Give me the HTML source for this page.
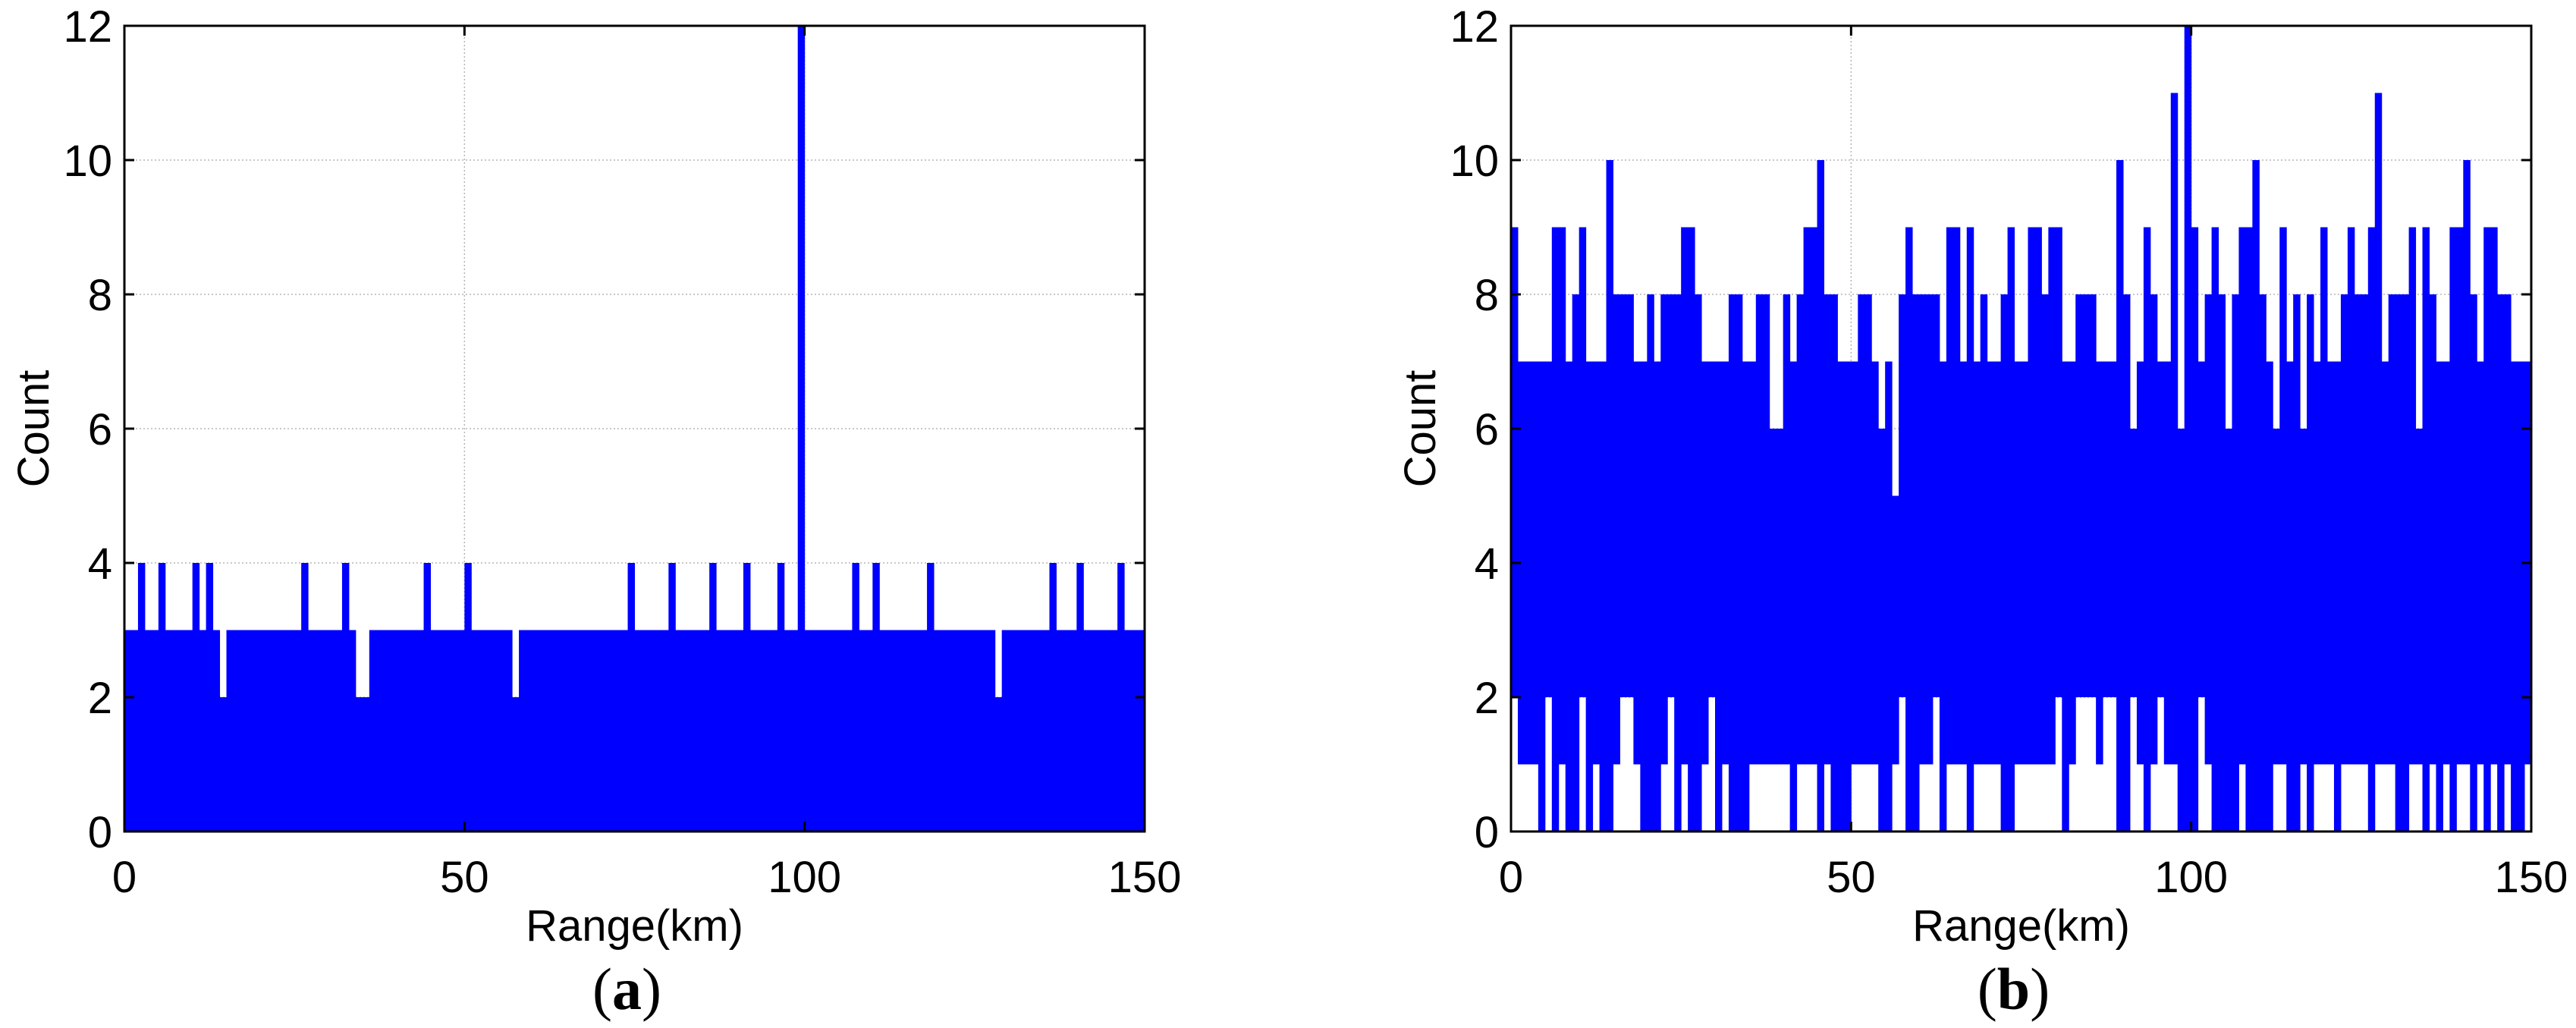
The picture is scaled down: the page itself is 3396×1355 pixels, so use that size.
<!DOCTYPE html>
<html><head><meta charset="utf-8">
<style>
html,body{margin:0;padding:0;background:#fff;}
svg{display:block;}
text{font-family:"Liberation Sans",Arial,sans-serif;fill:#000;}
.cap{font-family:"Liberation Serif","Times New Roman",serif;}
</style></head>
<body>
<svg id="fig" xmlns="http://www.w3.org/2000/svg" width="3396" height="1355" viewBox="0 0 3396 1355"></svg>
<script>
// ---- data ----
const xTicks = [0, 50, 100, 150];
const yTicks = [0, 2, 4, 6, 8, 10, 12];
const xTickLabels = ["0", "50", "100", "150"];
const yTickLabels = ["0", "2", "4", "6", "8", "10", "12"];
// panel (a): max count per 1 km range bin (min is 0 everywhere)
const aMax = [3,3,4,3,3,4,3,3,3,3,4,3,4,3,2,3,3,3,3,3,3,3,3,3,3,3,4,3,3,3,3,3,4,3,2,2,3,3,3,3,3,3,3,3,4,3,3,3,3,3,4,3,3,3,3,3,3,2,3,3,3,3,3,3,3,3,3,3,3,3,3,3,3,3,4,3,3,3,3,3,4,3,3,3,3,3,4,3,3,3,3,4,3,3,3,3,4,3,3,12,3,3,3,3,3,3,3,4,3,3,4,3,3,3,3,3,3,3,4,3,3,3,3,3,3,3,3,3,2,3,3,3,3,3,3,3,4,3,3,3,4,3,3,3,3,3,4,3,3,3];
const aMin = [0,0,0,0,0,0,0,0,0,0,0,0,0,0,0,0,0,0,0,0,0,0,0,0,0,0,0,0,0,0,0,0,0,0,0,0,0,0,0,0,0,0,0,0,0,0,0,0,0,0,0,0,0,0,0,0,0,0,0,0,0,0,0,0,0,0,0,0,0,0,0,0,0,0,0,0,0,0,0,0,0,0,0,0,0,0,0,0,0,0,0,0,0,0,0,0,0,0,0,0,0,0,0,0,0,0,0,0,0,0,0,0,0,0,0,0,0,0,0,0,0,0,0,0,0,0,0,0,0,0,0,0,0,0,0,0,0,0,0,0,0,0,0,0,0,0,0,0,0,0];
// panel (b): max and min count per 1 km range bin
const bMax = [9,7,7,7,7,7,9,9,7,8,9,7,7,7,10,8,8,8,7,7,8,7,8,8,8,9,9,8,7,7,7,7,8,8,7,7,8,8,6,6,8,7,8,9,9,10,8,8,7,7,7,8,8,7,6,7,5,8,9,8,8,8,8,7,9,9,7,9,7,8,7,7,8,9,7,7,9,9,8,9,9,7,7,8,8,8,7,7,7,10,8,6,7,9,8,7,7,11,6,12,9,7,8,9,8,6,8,9,9,10,8,7,6,9,7,8,6,8,7,9,7,7,8,9,8,8,9,11,7,8,8,8,9,6,9,8,7,7,9,9,10,8,7,9,9,8,8,7,7,7];
const bMin = [2,1,1,1,0,2,0,1,0,0,2,0,1,0,0,1,2,2,1,0,0,0,1,2,0,1,0,0,1,2,0,1,0,0,0,1,1,1,1,1,1,0,1,1,1,0,1,0,0,0,1,1,1,1,0,0,1,2,0,0,1,1,2,0,1,1,1,0,1,1,1,1,0,0,1,1,1,1,1,1,2,0,1,2,2,2,1,2,2,0,0,2,1,0,1,2,1,1,0,0,0,2,1,0,0,0,0,1,0,0,0,0,1,1,0,0,1,0,1,1,1,0,1,1,1,1,0,1,1,1,0,0,1,1,0,1,0,1,0,1,1,0,1,0,1,0,1,0,0,1];

const NS = "http://www.w3.org/2000/svg";
const svg = document.getElementById("fig");
const TOP = 34, BOT = 1096, W = 1345;
const XMAX = 150, YMAX = 12;

function mk(tag, attrs, parent) {
  const e = document.createElementNS(NS, tag);
  for (const k in attrs) e.setAttribute(k, attrs[k]);
  (parent || svg).appendChild(e);
  return e;
}

function panel(left, maxArr, minArr, key, caption) {
  const g = mk("g", {});
  
  
  const xs = v => left + v / XMAX * W;
  const ys = v => BOT - v / YMAX * (BOT - TOP);
  // grid
  const grid = mk("g", {stroke: "#b5b5b5", "stroke-width": 1.5, "stroke-dasharray": "2 3"}, g);
  
  
  xTicks.slice(1, -1).forEach(t => mk("line", {x1: xs(t), x2: xs(t), y1: TOP, y2: BOT}, grid));
  yTicks.slice(1, -1).forEach(t => mk("line", {x1: left, x2: left + W, y1: ys(t), y2: ys(t)}, grid));
  // bars
  const bars = mk("g", {fill: "#0000ff"}, g);
  
  
  const bw = 1;
  maxArr.forEach((m, i) => {
    const lo = minArr[i];
    const r = mk("rect", {x: xs(i * bw), y: ys(m), width: xs((i + 1) * bw) - xs(i * bw) + 0.5, height: ys(lo) - ys(m)}, bars);
    
    
  });
  // axes box
  const box = mk("rect", {x: left, y: TOP, width: W, height: BOT - TOP, fill: "none", stroke: "#000", "stroke-width": 3}, g);
  
  
  // ticks
  const tk = mk("g", {stroke: "#000", "stroke-width": 3}, g);
  xTicks.forEach(t => {
    mk("line", {x1: xs(t), x2: xs(t), y1: BOT, y2: BOT - 13}, tk);
    mk("line", {x1: xs(t), x2: xs(t), y1: TOP, y2: TOP + 13}, tk);
  });
  yTicks.forEach(t => {
    mk("line", {x1: left, x2: left + 13, y1: ys(t), y2: ys(t)}, tk);
    mk("line", {x1: left + W, x2: left + W - 13, y1: ys(t), y2: ys(t)}, tk);
  });
  // tick labels
  xTicks.forEach((t, i) => {
    const e = mk("text", {x: xs(t), y: 1176, "font-size": 58, "text-anchor": "middle"}, g);
    e.textContent = xTickLabels[i];
    
    
  });
  yTicks.forEach((t, i) => {
    const e = mk("text", {x: left - 16, y: ys(t) + 21, "font-size": 58, "text-anchor": "end"}, g);
    e.textContent = yTickLabels[i];
    
    
  });
  // axis titles
  const xt = mk("text", {x: left + W / 2, y: 1240, "font-size": 58, "text-anchor": "middle"}, g);
  xt.textContent = "Range(km)";
  
  
  const yx = left - 100, yy = (TOP + BOT) / 2;
  const yt = mk("text", {x: yx, y: yy, "font-size": 58, "text-anchor": "middle", transform: "rotate(-90 " + yx + " " + yy + ")"}, g);
  yt.textContent = "Count";
  
  
  // caption
  const c = mk("text", {x: left + W / 2 - 10, y: 1330, "font-size": 78, "text-anchor": "middle", class: "cap"}, g);
  c.innerHTML = '(<tspan font-weight="bold">' + caption + '</tspan>)';
  
  
}

panel(164, aMax, aMin, "a", "a");
panel(1992, bMax, bMin, "b", "b");
</script>
</body></html>
